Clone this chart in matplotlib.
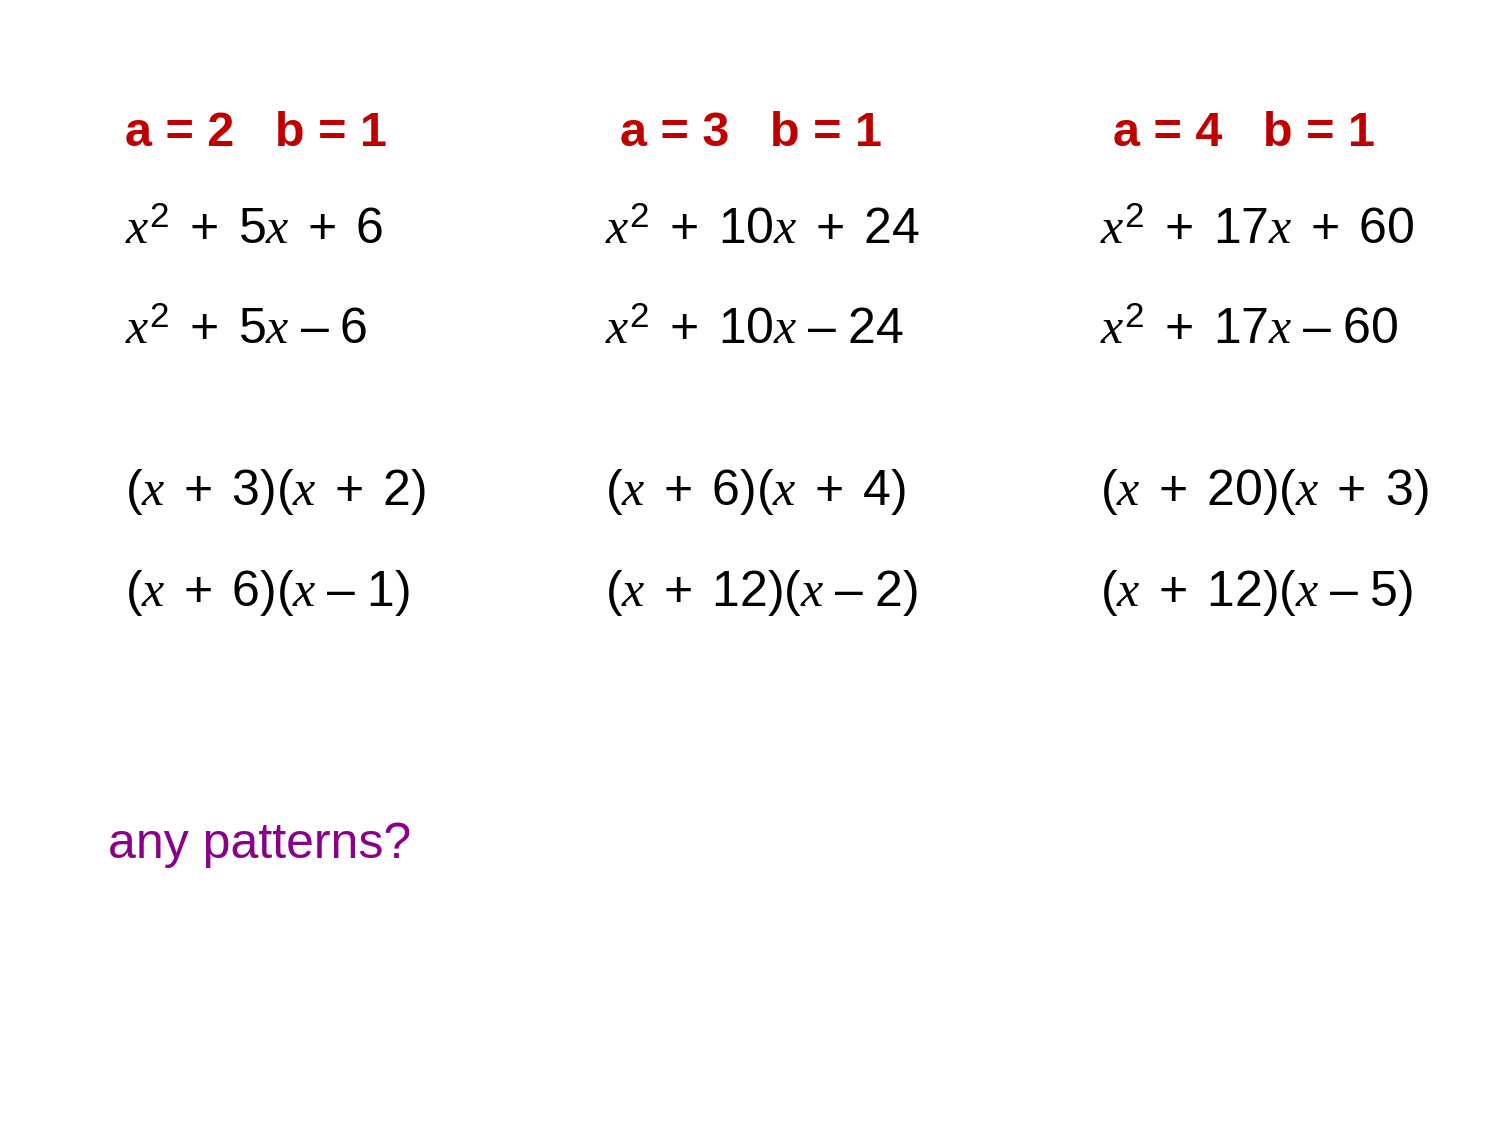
import matplotlib
matplotlib.use("Agg")
import matplotlib.pyplot as plt

plt.rcParams['mathtext.fontset'] = 'custom'
plt.rcParams['mathtext.rm'] = 'Liberation Sans'
plt.rcParams['mathtext.it'] = 'Liberation Serif:italic'
plt.rcParams['mathtext.bf'] = 'Liberation Sans:bold'

headers = ["a = 2   b = 1", "a = 3   b = 1", "a = 4   b = 1"]
row1 = [r"$\mathit{x}^{2}\mathrm{\ +\ 5}\mathit{x}\mathrm{\ +\ 6}$",
        r"$\mathit{x}^{2}\mathrm{\ +\ 10}\mathit{x}\mathrm{\ +\ 24}$",
        r"$\mathit{x}^{2}\mathrm{\ +\ 17}\mathit{x}\mathrm{\ +\ 60}$"]
row2 = [r"$\mathit{x}^{2}\mathrm{\ +\ 5}\mathit{x}\mathrm{\ –\ 6}$",
        r"$\mathit{x}^{2}\mathrm{\ +\ 10}\mathit{x}\mathrm{\ –\ 24}$",
        r"$\mathit{x}^{2}\mathrm{\ +\ 17}\mathit{x}\mathrm{\ –\ 60}$"]
row3 = [r"$\mathrm{(}\mathit{x}\mathrm{\ +\ 3)(}\mathit{x}\mathrm{\ +\ 2)}$",
        r"$\mathrm{(}\mathit{x}\mathrm{\ +\ 6)(}\mathit{x}\mathrm{\ +\ 4)}$",
        r"$\mathrm{(}\mathit{x}\mathrm{\ +\ 20)(}\mathit{x}\mathrm{\ +\ 3)}$"]
row4 = [r"$\mathrm{(}\mathit{x}\mathrm{\ +\ 6)(}\mathit{x}\mathrm{\ –\ 1)}$",
        r"$\mathrm{(}\mathit{x}\mathrm{\ +\ 12)(}\mathit{x}\mathrm{\ –\ 2)}$",
        r"$\mathrm{(}\mathit{x}\mathrm{\ +\ 12)(}\mathit{x}\mathrm{\ –\ 5)}$"]
question = "any patterns?"

W, H = 1500, 1125
fig = plt.figure(figsize=(15, 11.25), dpi=100)
fig.patch.set_facecolor('white')

hx = [125, 620, 1113]
ex = [125, 605, 1100]

def put(x, y, s, **kw):
    fig.text(x / W, 1 - y / H, s, va='center', ha='left', **kw)

for i in range(3):
    put(hx[i], 133, headers[i], fontsize=35, fontweight='bold',
        color='#C00000', family='Liberation Sans')
    for y, row in zip([230, 330, 492, 593], [row1, row2, row3, row4]):
        put(ex[i], y, row[i], fontsize=36, color='black')

put(108, 845, question, fontsize=36, color='#8B008B', family='Liberation Sans')

fig.savefig("out.png", dpi=100, facecolor='white')
